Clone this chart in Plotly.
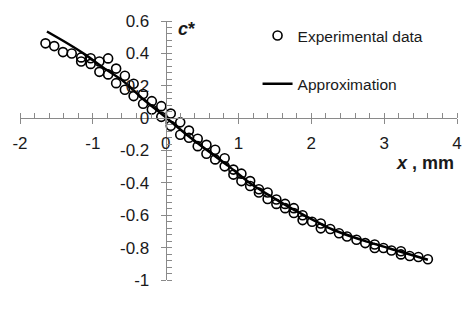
import plotly.graph_objects as go

# Experimental data (x in mm, c*)
exp_x = [-1.65, -1.53, -1.41, -1.29, -1.16, -1.16, -1.03, -1.03, -0.91, -0.91,
         -0.79, -0.79, -0.68, -0.68, -0.56, -0.56, -0.44, -0.44, -0.31, -0.31,
         -0.19, -0.19, -0.06, -0.06, 0.07, 0.07, 0.20, 0.20, 0.32, 0.32,
         0.44, 0.44, 0.56, 0.56, 0.68, 0.68, 0.81, 0.81, 0.93, 0.93,
         1.04, 1.04, 1.16, 1.16, 1.28, 1.28, 1.40, 1.40, 1.52, 1.52,
         1.64, 1.64, 1.76, 1.76, 1.88, 1.88, 2.01, 2.13, 2.13, 2.26,
         2.38, 2.49, 2.62, 2.74, 2.87, 2.87, 2.99, 3.10, 3.23, 3.23,
         3.35, 3.47, 3.60]
exp_y = [0.462, 0.445, 0.408, 0.399, 0.375, 0.350, 0.370, 0.335, 0.350, 0.286,
         0.369, 0.270, 0.306, 0.216, 0.262, 0.175, 0.212, 0.136, 0.149, 0.089,
         0.105, 0.054, 0.074, 0.008, 0.028, -0.047, -0.026, -0.103, -0.077, -0.121,
         -0.127, -0.173, -0.165, -0.220, -0.195, -0.255, -0.248, -0.298, -0.318, -0.349,
         -0.343, -0.389, -0.389, -0.419, -0.439, -0.459, -0.459, -0.500, -0.503, -0.530,
         -0.530, -0.556, -0.556, -0.586, -0.600, -0.630, -0.640, -0.651, -0.681, -0.685,
         -0.711, -0.731, -0.751, -0.772, -0.781, -0.802, -0.802, -0.818, -0.822, -0.842,
         -0.852, -0.858, -0.872]

# Approximation curve
apx_x = [-1.63, -1.38, -1.11, -0.85, -0.58, -0.31, 0.00, 0.32, 0.50, 0.86,
         1.17, 1.57, 1.93, 2.29, 2.73, 3.18, 3.60]
apx_y = [0.535, 0.470, 0.394, 0.310, 0.228, 0.118, 0.005, -0.114, -0.175, -0.295,
         -0.406, -0.517, -0.607, -0.688, -0.758, -0.819, -0.875]

x_ticks = [-2, -1, 0, 1, 2, 3, 4]
x_labels = ["-2", "-1", "0", "1", "2", "3", "4"]
y_ticks = [0.6, 0.4, 0.2, 0, -0.2, -0.4, -0.6, -0.8, -1]
y_labels = ["0.6", "0.4", "0.2", "0", "-0.2", "-0.4", "-0.6", "-0.8", "-1"]

X_RANGE = [-2, 4]
Y_RANGE = [-1, 0.6]
FONT = "Liberation Sans, Arial, sans-serif"
AXC = "#8a8a8a"

xpos = (0 - Y_RANGE[0]) / (Y_RANGE[1] - Y_RANGE[0])
ypos = (0 - X_RANGE[0]) / (X_RANGE[1] - X_RANGE[0])

fig = go.Figure()
fig.add_trace(go.Scatter(
    x=exp_x, y=exp_y, mode="markers", name="Experimental data",
    legendgroup="a",
    marker=dict(symbol="circle-open", size=9, color="black", line=dict(width=1.6, color="black")),
))
fig.add_trace(go.Scatter(
    x=apx_x, y=apx_y, mode="lines", name="Approximation", legendgroup="b",
    line=dict(color="black", width=2.5, shape="spline", smoothing=0.6),
))

fig.update_layout(
    width=474, height=310,
    margin=dict(l=14, r=13, t=16, b=30),
    paper_bgcolor="white", plot_bgcolor="white",
    font=dict(family=FONT, size=17, color="#1a1a1a"),
    showlegend=True,
    legend=dict(x=0.5436, xanchor="left", y=1.008, yanchor="top",
                bgcolor="rgba(0,0,0,0)", font=dict(size=15.5, color="#1a1a1a"),
                tracegroupgap=25, traceorder="grouped"),
    xaxis=dict(range=X_RANGE, anchor="free", position=xpos, domain=[0, 1],
               showgrid=False, zeroline=False, showline=True, linecolor=AXC, linewidth=1,
               tickmode="array", tickvals=x_ticks, ticktext=x_labels,
               ticks="outside", ticklen=5, tickcolor=AXC, tickwidth=1,
               ticklabelstandoff=4,
               minor=dict(dtick=0.2, ticks="inside", ticklen=5, tickcolor=AXC, tickwidth=1, showgrid=False)),
    yaxis=dict(range=Y_RANGE, anchor="free", position=ypos, domain=[0, 1],
               showgrid=False, zeroline=False, showline=True, linecolor=AXC, linewidth=1,
               tickmode="array", tickvals=y_ticks, ticktext=y_labels,
               ticks="outside", ticklen=5, tickcolor=AXC, tickwidth=1,
               ticklabelstandoff=8,
               minor=dict(dtick=0.04, tick0=0, ticks="inside", ticklen=5, tickcolor=AXC, tickwidth=1, showgrid=False)),
    xaxis2=dict(range=X_RANGE, overlaying="x", anchor="free", position=xpos,
                showgrid=False, zeroline=False, showline=False,
                tickmode="array", tickvals=x_ticks, showticklabels=False,
                ticks="inside", ticklen=5, tickcolor=AXC, tickwidth=1),
    yaxis2=dict(range=Y_RANGE, overlaying="y", anchor="free", position=ypos,
                showgrid=False, zeroline=False, showline=False,
                tickmode="array", tickvals=y_ticks, showticklabels=False,
                ticks="inside", ticklen=5, tickcolor=AXC, tickwidth=1),
)

fig.add_annotation(x=0.14, y=0.55, xref="x", yref="y", xanchor="left", yanchor="middle",
                   text="<b><i>c</i>*</b>", showarrow=False,
                   font=dict(family=FONT, size=18, color="#1a1a1a"))
fig.add_annotation(x=3.98, y=-0.28, xref="x", yref="y", xanchor="right", yanchor="middle",
                   text="<b><i>x</i> , mm</b>", showarrow=False,
                   font=dict(family=FONT, size=18, color="#1a1a1a"))

fig.write_html("out.html")
